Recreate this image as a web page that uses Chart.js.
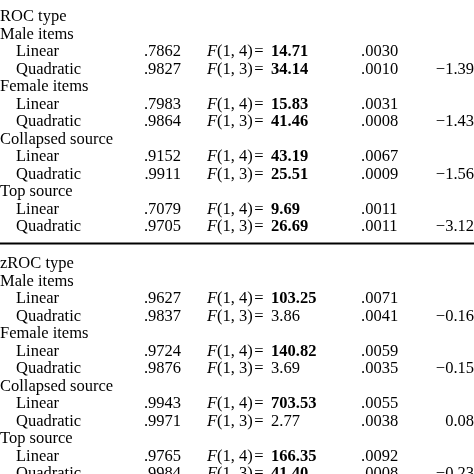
<!DOCTYPE html>
<html><head><meta charset="utf-8">
<script src="https://cdn.jsdelivr.net/npm/chart.js@4"></script>
<style>html,body{margin:0;padding:0;background:#fff}#w{width:474px;height:474px}</style>
</head><body><div id="w"><canvas id="c"></canvas></div>
<script>
const rowLabels=["ROC type","Male items","Linear","Quadratic","Female items","Linear","Quadratic","Collapsed source","Linear","Quadratic","Top source","Linear","Quadratic",
"zROC type","Male items","Linear","Quadratic","Female items","Linear","Quadratic","Collapsed source","Linear","Quadratic","Top source","Linear","Quadratic"];
const rowIndent=[0,0,1,1,0,1,1,0,1,1,0,1,1, 0,0,1,1,0,1,1,0,1,1,0,1,1];
const rowPos=[0,1,2,3,4,5,6,7,8,9,10,11,12, 14.1,15.1,16.1,17.1,18.1,19.1,20.1,21.1,22.1,23.1,24.1,25.1,26.1];
const r2=["","",".7862",".9827","",".7983",".9864","",".9152",".9911","",".7079",".9705",
"","",".9627",".9837","",".9724",".9876","",".9943",".9971","",".9765",".9984"];
const fDf=["","","(1, 4)","(1, 3)","","(1, 4)","(1, 3)","","(1, 4)","(1, 3)","","(1, 4)","(1, 3)",
"","","(1, 4)","(1, 3)","","(1, 4)","(1, 3)","","(1, 4)","(1, 3)","","(1, 4)","(1, 3)"];
const fVal=["","","14.71","34.14","","15.83","41.46","","43.19","25.51","","9.69","26.69",
"","","103.25","3.86","","140.82","3.69","","703.53","2.77","","166.35","41.40"];
const fBold=[0,0,1,1,0,1,1,0,1,1,0,1,1, 0,0,1,0,0,1,0,0,1,0,0,1,1];
const pVal=["","",".0030",".0010","",".0031",".0008","",".0067",".0009","",".0011",".0011",
"","",".0071",".0041","",".0059",".0035","",".0055",".0038","",".0092",".0008"];
const lastVal=["","","","\u22121.39","","","\u22121.43","","","\u22121.56","","","\u22123.12",
"","","","\u22120.16","","","\u22120.15","","","0.08","","","\u22120.23"];
const dividerPos=[12.93];

const F="'Liberation Serif', 'DejaVu Serif', serif";
const tablePlugin={id:'table',afterDraw(ch){
  const c=ch.ctx,y=ch.scales.y,x=ch.scales.x;
  c.save();c.fillStyle='#000';c.textBaseline='middle';
  rowLabels.forEach((lab,i)=>{
    const py=y.getPixelForValue(rowPos[i]);
    c.font='16.5px '+F;c.textAlign='left';
    c.fillText(lab,x.getPixelForValue(rowIndent[i]?16:0),py);
    if(r2[i]){c.textAlign='right';c.fillText(r2[i],x.getPixelForValue(181),py);}
    if(fVal[i]){
      c.textAlign='left';let px=x.getPixelForValue(207);
      c.font='italic 16.5px '+F;c.fillText('F',px,py);px+=c.measureText('F').width;
      c.font='16.5px '+F;c.fillText(fDf[i],px,py);
      c.textAlign='center';c.fillText('=',x.getPixelForValue(259),py);
      c.textAlign='left';
      c.font=(fBold[i]?'bold ':'')+'16.5px '+F;c.fillText(fVal[i],x.getPixelForValue(271),py);
    }
    c.font='16.5px '+F;
    if(pVal[i]){c.textAlign='left';c.fillText(pVal[i],x.getPixelForValue(361),py);}
    if(lastVal[i]){c.textAlign='right';c.fillText(lastVal[i],x.getPixelForValue(474),py);}
  });
  dividerPos.forEach(v=>{const py=y.getPixelForValue(v);c.strokeStyle='#000';c.lineWidth=2;
    c.beginPath();c.moveTo(x.getPixelForValue(0),py);c.lineTo(x.getPixelForValue(474),py);c.stroke();});
  c.restore();
}};
new Chart(document.getElementById('c'),{
  type:'scatter',
  data:{datasets:[{data:rowPos.map(v=>({x:0,y:v})),pointRadius:0}]},
  options:{responsive:true,maintainAspectRatio:false,animation:false,layout:{padding:0},
    plugins:{legend:{display:false},tooltip:{enabled:false}},
    scales:{x:{type:'linear',min:0,max:474,display:false},
            y:{type:'linear',min:-0.97,max:26.1,reverse:true,display:false}}},
  plugins:[tablePlugin]
});
</script></body></html>
